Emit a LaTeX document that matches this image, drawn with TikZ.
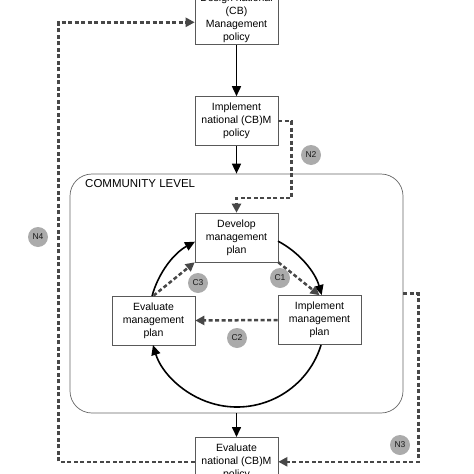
\documentclass[tikz,border=0pt]{standalone}
\usepackage{fontspec}
\setmainfont{Liberation Sans}
\usetikzlibrary{arrows.meta}

\begin{document}
\begin{tikzpicture}[x=1pt,y=-1pt,
  stage/.style={draw=black!65, line width=0.6pt, fill=white, minimum width=83pt, minimum height=49pt, align=center, inner sep=2pt, font=\fontsize{10.5}{13}\selectfont},
  flow/.style={line width=1.6pt, -{Triangle[length=10pt,width=9pt]}},
  feedback/.style={draw=black!72, line width=2.5pt, dash pattern=on 4pt off 2.5pt, -{Triangle[length=9pt,width=9pt]}},
  tag/.style={circle, fill=black!33, minimum size=20pt, inner sep=0pt, font=\fontsize{8.5}{8.5}\selectfont, text=black!90}]
\useasboundingbox (0,0) rectangle (474,474);

% Draw the community frame
\node[draw=black!60, line width=0.7pt, rounded corners=22pt, minimum width=333pt, minimum height=239pt] (community) at (236.5,293.5) {};
\node[anchor=west, inner sep=0pt, font=\fontsize{11.5}{11.5}\selectfont] (commlabel) at (85,184) {COMMUNITY LEVEL};

% Draw the national boxes
\node[stage, anchor=south] (design) at (236.5,45) {Design national\\(CB)\\Management\\policy};
\node[stage] (implnat) at (236.5,121) {Implement\\national (CB)M\\policy};
\node[stage, anchor=north] (evalnat) at (236.5,437) {Evaluate\\national (CB)M\\policy};

% Draw the community boxes
\node[stage] (develop) at (236.5,237.5) {Develop\\management\\plan};
\node[stage] (evalplan) at (153.5,320.5) {Evaluate\\management\\plan};
\node[stage] (implplan) at (319.5,320) {Implement\\management\\plan};

% Draw the cycle
\coordinate (hub) at (237,319);
\draw[flow] (hub) ++(164.8:88pt) arc[start angle=164.8, end angle=118.5, radius=88pt];
\draw[flow] (hub) ++(62.2:88pt) arc[start angle=62.2, end angle=15.8, radius=88pt];
\draw[flow] (hub) ++(-17.2:88pt) arc[start angle=-17.2, end angle=-162.8, radius=88pt];

% Draw the national flow
\draw[flow] (design.south) -- (implnat.north);
\draw[flow] (implnat.south) -- (community.north);
\draw[flow] (community.south) -- (evalnat.north);

% Draw the feedback loops
\draw[feedback] (develop.south east) -- (implplan.north);
\draw[feedback] (implplan.west) -- (evalplan.east);
\draw[feedback] (evalplan.north) -- (develop.south west);
\draw[feedback] (implnat.east) -- ++(13,0) -- ++(0,77) -| (develop.north);
\draw[feedback] (community.east) -- ++(15,0) |- (evalnat.east);
\draw[feedback] (evalnat.west) -- ++(-136,0) |- ([yshift=-4pt]design.west);

% Draw the tags
\node[tag] (c1) at (280,278) {C1};
\node[tag] (c2) at (237,338) {C2};
\node[tag] (c3) at (198,283) {C3};
\node[tag] (n2) at (311,155) {N2};
\node[tag] (n3) at (400,445) {N3};
\node[tag] (n4) at (38,237) {N4};
\end{tikzpicture}
\end{document}
